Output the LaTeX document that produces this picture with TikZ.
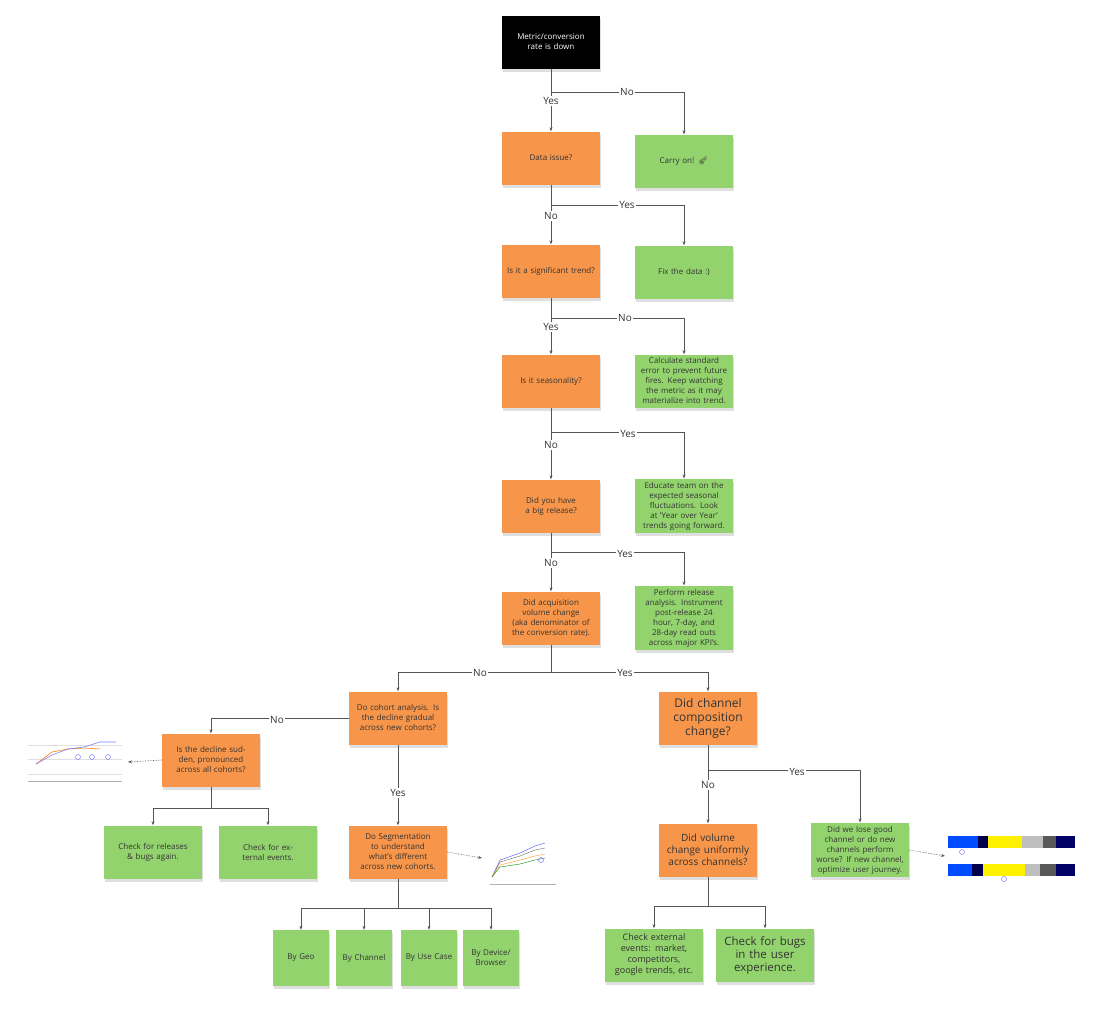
\documentclass[tikz,border=0pt]{standalone}
\usepackage{fontspec}
\setmainfont{Open Sans}
\usetikzlibrary{shadows,arrows.meta}
\definecolor{og}{HTML}{F7964A}
\definecolor{gr}{HTML}{92D36E}
\definecolor{tx}{HTML}{333333}
\definecolor{ln}{HTML}{555555}
\tikzset{
 box/.style={minimum width=98pt,minimum height=53pt,text width=88pt,align=center,font=\fontsize{8}{10}\selectfont,text=tx,drop shadow={opacity=0.25,shadow xshift=1pt,shadow yshift=-3pt}},
 ob/.style={box,fill=og},
 gb/.style={box,fill=gr},
 big/.style={font=\fontsize{12}{14}\selectfont},
 sm/.style={minimum width=55pt,text width=50pt,minimum height=56pt},
 conn/.style={draw=ln,line width=0.6pt,-{Stealth[length=4pt,width=3pt]}},
 lin/.style={draw=ln,line width=0.6pt},
 dot/.style={draw=ln,line width=0.6pt,densely dotted,-{Stealth[length=4pt,width=3pt]}},
 lab/.style={fill=white,inner sep=1pt,font=\fontsize{10}{12}\selectfont,text=tx},
}
\begin{document}
\begin{tikzpicture}[x=1pt,y=-1pt]
\useasboundingbox[fill=white] (0,0) rectangle (1100,1023);
\node[box,fill=black,text=white] (s) at (551,42) {Metric/conversion rate is down};
\node[ob] (d) at (551,158) {Data issue?};
\node[gb] (c) at (684,161) {Carry on! {\fontspec{Noto Emoji}🚀}};
\node[ob] (t) at (551,271) {Is it a significant trend?};
\node[gb] (f) at (684,272) {Fix the data :)};
\node[ob] (se) at (551,381) {Is it seasonality?};
\node[gb] (ca) at (684,381) {Calculate standard error to prevent future fires. Keep watching the metric as it may materialize into trend.};
\node[ob] (br) at (551,506) {Did you have a big release?};
\node[gb] (ed) at (684,506) {Educate team on the expected seasonal fluctuations. Look at 'Year over Year' trends going forward.};
\node[ob] (ac) at (551,618) {Did acquisition volume change (aka denominator of the conversion rate).};
\node[gb] (ra) at (684,618) {Perform release analysis. Instrument post-release 24 hour, 7-day, and 28-day read outs across major KPI's.};
\node[ob] (co) at (398,718) {Do cohort analysis. Is the decline gradual across new cohorts?};
\node[ob,big] (ch) at (708,718) {Did channel composition change?};
\node[ob] (de) at (211,760) {Is the decline sudden, pronounced across all cohorts?};
\node[gb] (rb) at (153,852) {Check for releases \& bugs again.};
\node[gb] (ex) at (268,852) {Check for external events.};
\node[ob] (sg) at (398,852) {Do Segmentation to understand what's different across new cohorts.};
\node[gb,sm] (g1) at (301,958) {By Geo};
\node[gb,sm] (g2) at (364,958) {By Channel};
\node[gb,sm] (g3) at (429,958) {By Use Case};
\node[gb,sm] (g4) at (491,958) {By Device/ Browser};
\node[ob,font=\fontsize{10}{12}\selectfont] (vo) at (708,850) {Did volume change uniformly across channels?};
\node[gb] (lo) at (860,850) {Did we lose good channel or do new channels perform worse? If new channel, optimize user journey.};
\node[gb,font=\fontsize{9}{11}\selectfont] (ce) at (654,955) {Check external events: market, competitors, google trends, etc.};
\node[gb,font=\fontsize{11.5}{13}\selectfont] (cb) at (765,955) {Check for bugs in the user experience.};
% connectors
\coordinate (j1) at (551,92);
\draw[conn] (s) -- (d); \draw[conn] (j1) -| (c);
\node[lab] at (551,101) {Yes}; \node[lab] at (627,92) {No};
\coordinate (j2) at (551,205);
\draw[conn] (d) -- (t); \draw[conn] (j2) -| (f);
\node[lab] at (551,216) {No}; \node[lab] at (627,205) {Yes};
\coordinate (j3) at (551,318);
\draw[conn] (t) -- (se); \draw[conn] (j3) -| (ca);
\node[lab] at (551,327) {Yes}; \node[lab] at (625,318) {No};
\coordinate (j4) at (551,432);
\draw[conn] (se) -- (br); \draw[conn] (j4) -| (ed);
\node[lab] at (551,445) {No}; \node[lab] at (628,434) {Yes};
\coordinate (j5) at (551,552);
\draw[conn] (br) -- (ac); \draw[conn] (j5) -| (ra);
\node[lab] at (551,563) {No}; \node[lab] at (625,554) {Yes};
\coordinate (j6) at (551,672);
\draw[lin] (ac) -- (j6);
\draw[conn] (j6) -| (co); \draw[conn] (j6) -| (ch);
\node[lab] at (480,673) {No}; \node[lab] at (625,673) {Yes};
\draw[conn] (co.west) -| (de);
\node[lab] at (277,720) {No};
\draw[conn] (co) -- (sg); \node[lab] at (398,793) {Yes};
\coordinate (j7) at (211,808);
\draw[lin] (de) -- (j7); \draw[conn] (j7) -| (rb); \draw[conn] (j7) -| (ex);
\coordinate (j8) at (398,908);
\draw[lin] (sg) -- (j8);
\foreach \n in {g1,g2,g3,g4} \draw[conn] (j8) -| (\n);
\coordinate (j9) at (708,770);
\draw[conn] (ch) -- (vo); \draw[conn] (j9) -| (lo);
\node[lab] at (708,785) {No}; \node[lab] at (797,772) {Yes};
\coordinate (j10) at (708,906);
\draw[lin] (vo) -- (j10); \draw[conn] (j10) -| (ce); \draw[conn] (j10) -| (cb);
% chart 1
\coordinate (i1) at (128,762);
\draw[dot] (de.west) -- (i1);
\begin{scope}
\foreach \y in {745,759,774} \draw[gray!25,line width=0.3pt] (28,\y) -- (122,\y);
\draw[gray!60,line width=0.3pt] (28,781) -- (122,781);
\draw[orange,line width=0.6pt] (36,764) -- (52,752) -- (68,749) -- (84,748) -- (100,749);
\draw[blue!50,line width=0.6pt] (36,764) -- (52,755) -- (68,749) -- (84,747) -- (100,742) -- (116,742);
\foreach \x in {78,92,108} \draw[blue!50,line width=0.5pt] (\x,757) circle (2.5pt);
\end{scope}
% chart 2
\coordinate (i2) at (482,858);
\draw[dot] (sg.east) -- (i2);
\begin{scope}
\draw[gray!60,line width=0.3pt] (490,884) -- (556,884);
\draw[blue!60,line width=0.5pt] (492,877) -- (500,860) -- (520,853) -- (535,846) -- (545,843);
\draw[gray,line width=0.5pt] (492,877) -- (500,862) -- (520,856) -- (535,850) -- (545,848);
\draw[orange!70,line width=0.5pt] (492,877) -- (500,865) -- (520,860) -- (535,856) -- (545,854);
\draw[green!60!black,line width=0.4pt] (492,877) -- (500,867) -- (520,864) -- (535,860) -- (545,858);
\draw[blue!50,line width=0.5pt] (541,860) circle (2.5pt);
\end{scope}
% chart 3
\coordinate (i3) at (945,856);
\draw[dot] (lo.east) -- (i3);
\begin{scope}
\fill[blue!70!cyan] (948,836) rectangle (978,848);
\fill[blue!30!black] (978,836) rectangle (988,848);
\fill[yellow] (988,836) rectangle (1022,848);
\fill[gray!50] (1022,836) rectangle (1043,848);
\fill[gray!70!black] (1043,836) rectangle (1056,848);
\fill[blue!40!black] (1056,836) rectangle (1075,848);
\fill[blue!70!cyan] (948,864) rectangle (972,876);
\fill[blue!30!black] (972,864) rectangle (983,876);
\fill[yellow] (983,864) rectangle (1025,876);
\fill[gray!50] (1025,864) rectangle (1040,876);
\fill[gray!70!black] (1040,864) rectangle (1056,876);
\fill[blue!40!black] (1056,864) rectangle (1075,876);
\draw[blue!50,line width=0.5pt] (962,852) circle (2.5pt);
\draw[blue!50,line width=0.5pt] (1004,879) circle (2.5pt);
\end{scope}
\end{tikzpicture}
\end{document}
